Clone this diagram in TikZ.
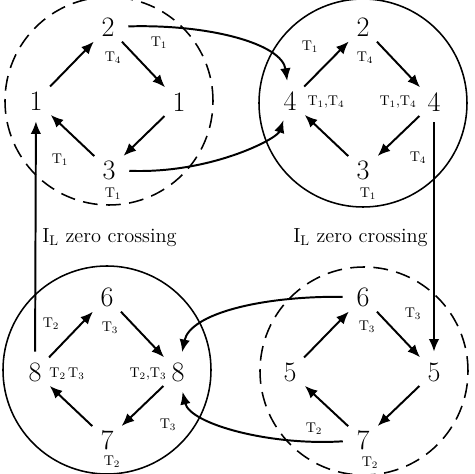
\documentclass[tikz,border=0pt]{standalone}
\usepackage{tikz}
\usetikzlibrary{arrows.meta}
\tikzset{
    % Rings around each group
    ring/.style={
        circle,
        draw=black,
        line width=1.1pt,
        minimum size=52mm,
        inner sep=0pt
    },
    dashring/.style={
        ring,
        dash pattern=on 10.5pt off 6pt
    },
    % State numbers
    num/.style={
        circle,
        minimum size=10mm,
        inner sep=0pt,
        font=\fontsize{20}{23}\selectfont
    },
    % Switch labels
    lbl/.style={
        inner sep=0pt,
        font=\normalsize
    },
    % Crossing note
    note/.style={
        inner sep=0pt,
        font=\fontsize{14.5}{16}\selectfont
    },
    % Arrows
    arr/.style={
        -{Latex[length=9pt,width=7.5pt]},
        line width=1.4pt
    }
}

\begin{document}
\begin{tikzpicture}[x=0.25mm, y=0.25mm]

    \useasboundingbox (0,0) rectangle (474,474);

    % Rings
    \node[dashring] (tlring) at (109,373) {};
    \node[ring] (trring) at (363,371) {};
    \node[ring] (blring) at (107,104) {};
    \node[dashring] (brring) at (364,103) {};

    % Top-left group
    \node[num] (tl2) at (108,447) {2};
    \node[num] (tl1a) at (36,373) {1};
    \node[num] (tl1b) at (179,372) {1};
    \node[num] (tl3) at (109,304) {3};
    \node[lbl] (tlt4) at (113,416) {T$_4$};
    \node[lbl] (tlt1a) at (159,431) {T$_1$};
    \node[lbl] (tlt1b) at (60,314) {T$_1$};
    \node[lbl] (tlt1c) at (113,280) {T$_1$};

    % Top-right group
    \node[num] (tr2) at (363,447) {2};
    \node[num] (tr4a) at (290,373) {4};
    \node[num] (tr4b) at (434,372) {4};
    \node[num] (tr3) at (363,304) {3};
    \node[lbl] (trt1a) at (310,427) {T$_1$};
    \node[lbl] (trt4a) at (365,416) {T$_4$};
    \node[lbl] (trt14a) at (326,372) {T$_1$,T$_4$};
    \node[lbl] (trt14b) at (398,372) {T$_1$,T$_4$};
    \node[lbl] (trt4b) at (418,316) {T$_4$};
    \node[lbl] (trt1b) at (368,280) {T$_1$};

    % Bottom-left group
    \node[num] (bl6) at (107,177) {6};
    \node[num] (bl8a) at (35,102) {8};
    \node[num] (bl8b) at (178,102) {8};
    \node[num] (bl7) at (107,34) {7};
    \node[lbl] (blt2a) at (51,150) {T$_2$};
    \node[lbl] (blt3a) at (110,146) {T$_3$};
    \node[lbl] (blt23a) at (67,100) {T$_2$\,T$_3$};
    \node[lbl] (blt23b) at (148,100) {T$_2$,T$_3$};
    \node[lbl] (blt3b) at (168,49) {T$_3$};
    \node[lbl] (blt2b) at (112,12) {T$_2$};

    % Bottom-right group
    \node[num] (br6) at (363,177) {6};
    \node[num] (br5a) at (290,102) {5};
    \node[num] (br5b) at (434,102) {5};
    \node[num] (br7) at (363,34) {7};
    \node[lbl] (brt3a) at (413,160) {T$_3$};
    \node[lbl] (brt3b) at (367,147) {T$_3$};
    \node[lbl] (brt2a) at (314,45) {T$_2$};
    \node[lbl] (brt2b) at (370,11) {T$_2$};

    % Zero crossing notes
    \node[note, anchor=west] (zcl) at (42,236) {I$_\mathrm{L}$ zero crossing};
    \node[note, anchor=east] (zcr) at (428,236) {I$_\mathrm{L}$ zero crossing};

    % Loops inside the groups
    \draw[arr] (tl1a) -- (tl2);
    \draw[arr] (tl2) -- (tl1b);
    \draw[arr] (tl1b) -- (tl3);
    \draw[arr] (tl3) -- (tl1a);

    \draw[arr] (tr4a) -- (tr2);
    \draw[arr] (tr2) -- (tr4b);
    \draw[arr] (tr4b) -- (tr3);
    \draw[arr] (tr3) -- (tr4a);

    \draw[arr] (bl8a) -- (bl6);
    \draw[arr] (bl6) -- (bl8b);
    \draw[arr] (bl8b) -- (bl7);
    \draw[arr] (bl7) -- (bl8a);

    \draw[arr] (br5a) -- (br6);
    \draw[arr] (br6) -- (br5b);
    \draw[arr] (br5b) -- (br7);
    \draw[arr] (br7) -- (br5a);

    % Links between the groups
    \draw[arr] (tl2) .. controls (210,450) and (282,430) .. (tr4a);
    \draw[arr] (tl3) .. controls (210,300) and (277,335) .. (tr4a);
    \draw[arr] (br6) .. controls (260,178) and (190,160) .. (bl8b);
    \draw[arr] (br7) .. controls (270,28) and (190,50) .. (bl8b);

    % Zero crossing jumps
    \draw[arr] (bl8a) -- (tl1a);
    \draw[arr] (tr4b) -- (br5b);

\end{tikzpicture}
\end{document}
